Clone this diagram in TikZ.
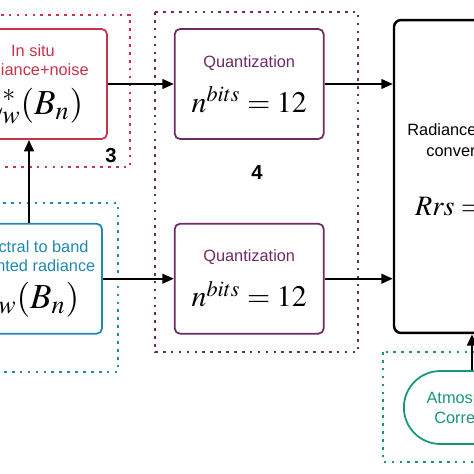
\documentclass[tikz,border=0pt]{standalone}
\usepackage{mathptmx}
\usepackage{fontspec}
\setmainfont{Liberation Sans}
\usetikzlibrary{positioning,shapes.misc,arrows.meta}
\definecolor{insitured}{HTML}{C8324B}
\definecolor{quantpurple}{HTML}{6E2A66}
\definecolor{specblue}{HTML}{1F88B4}
\definecolor{atmosgreen}{HTML}{17957A}
\tikzset{
  block/.style={draw, rounded corners=3pt, line width=1pt, minimum width=2.98cm,
    minimum height=2.2cm, align=center, font=\fontsize{9.3}{11}\selectfont},
  group/.style={line width=1.5pt, dash pattern=on 1.5pt off 3pt},
  flow/.style={-{Triangle[length=6.5pt,width=5.5pt]}, line width=1.1pt},
  tag/.style={font=\fontsize{11.5}{13}\selectfont\bfseries}
}
\newcommand{\eqsize}[2]{{\color{black}\fontsize{#1}{#1}\selectfont$#2$}}

\begin{document}
\begin{tikzpicture}[x=0.02cm, y=-0.02cm]
  \useasboundingbox (0,0) rectangle (474,474);
  % dotted frames
  \draw[group, insitured] (-80,15) rectangle (130,167);
  \draw[group, specblue] (-80,203) rectangle (118,372);
  \draw[group, quantpurple] (155,12) rectangle (358,352);
  \draw[group, atmosgreen] (383,352) rectangle (580,462);
  \node[tag] (three) at (111,156) {3};
  \node[tag] (four) at (257,173) {4};

  % blocks
  \node[block, draw=insitured, text=insitured, minimum width=2.96cm] (insitu) at (33,84)
    {In situ\\radiance+noise\\[6pt]\eqsize{20}{L^*_w(B_n)}};
  \node[block, draw=quantpurple, text=quantpurple] (quant1) [right=1.32cm of insitu]
    {Quantization\\[8pt]\eqsize{17}{n^{bits}=12}};
  \node[block, draw=quantpurple, text=quantpurple] (quant2) [below=1.66cm of quant1]
    {Quantization\\[8pt]\eqsize{17}{n^{bits}=12}};
  \node[block, draw=specblue, text=specblue, minimum width=2.92cm] (spec) [left=1.42cm of quant2]
    {Spectral to band\\weighted radiance\\[3pt]\eqsize{20}{L_w(B_n)}};
  \node[block, draw=black, text=black, line width=1.4pt, rounded corners=4pt,
    minimum width=2.88cm, minimum height=6.26cm] (conv) at (466,176.5)
    {Radiance to Rrs\\[1pt]conversion\\[18pt]\eqsize{16}{Rrs=\frac{L_w}{E_d}}};
  \node[draw=atmosgreen, text=atmosgreen, rounded rectangle, line width=1pt,
    minimum width=2.96cm, minimum height=1.46cm, align=center,
    font=\fontsize{9.3}{11}\selectfont] (atmos) at (472,407.5) {Atmospheric\\Correction};

  % connectors
  \draw[flow] (insitu.east) -- (quant1.west);
  \draw[flow] (spec.east) -- (quant2.west);
  \draw[flow] (spec.north) -- (spec.north |- insitu.south);
  \draw[flow] (quant1.east) -- (quant1.east -| conv.west);
  \draw[flow] (quant2.east) -- (quant2.east -| conv.west);
  \draw[flow, line width=1.6pt] (atmos.north) -- (atmos.north |- conv.south);
\end{tikzpicture}
\end{document}
